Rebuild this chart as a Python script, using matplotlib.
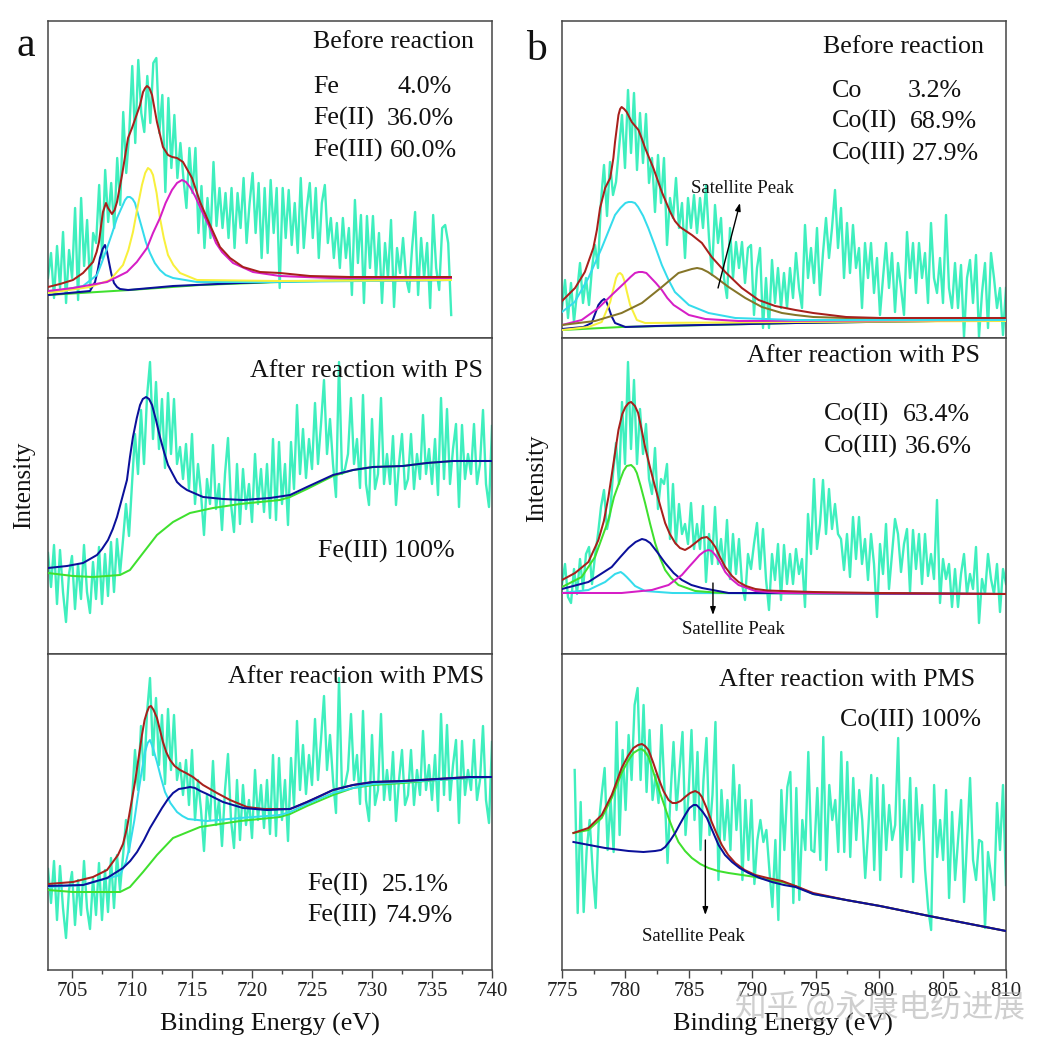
import numpy as np
import matplotlib
matplotlib.use("Agg")
import matplotlib.pyplot as plt
from matplotlib.ticker import MultipleLocator

plt.rcParams['font.family'] = ['Liberation Serif', 'DejaVu Serif']

W, H = 1050, 1049

# ---------- raw spectra (arbitrary intensity units) ----------
fe_before_range = [703.0, 736.6]
fe_before = [60,85,40,92,50,106,35,88,60,130,38,140,
 72,118,50,105,95,153,80,168,116,155,110,180,
 133,226,165,205,272,195,278,225,206,262,215,275,
 280,205,243,146,240,170,223,160,195,160,130,190,
 145,190,105,152,90,140,100,176,112,150,110,145,
 100,150,90,145,110,160,95,135,165,105,155,80,
 150,85,158,105,150,50,150,100,148,93,135,85,
 160,90,130,155,100,150,80,135,153,95,120,80,
 115,70,120,80,110,43,138,75,123,35,122,70,
 122,60,105,35,95,60,118,31,90,65,100,60,
 46,90,126,43,100,60,95,30,123,70,48,110,
 113,95,23]

fe_after_range = [703.0, 740.0]
fe_after = [101,67,109,50,104,62,32,80,98,45,90,55,
 109,62,41,92,55,107,50,100,58,112,62,115,
 80,114,150,118,170,220,180,244,190,257,292,215,
 272,205,255,186,261,200,255,190,207,175,210,165,
 220,150,190,160,119,175,150,209,145,170,124,180,
 216,150,122,190,130,185,145,170,132,200,150,185,
 142,190,136,215,134,212,150,190,129,212,165,249,
 180,225,176,215,185,251,190,230,274,200,235,190,
 157,292,180,185,200,256,190,215,166,259,170,149,
 235,165,180,256,170,200,170,218,149,190,220,165,
 175,220,165,200,175,239,180,205,170,215,159,256,
 175,245,170,205,230,147,229,175,200,180,230,170,
 190,244,170,147,228]

co_before_range = [775.0, 810.0]
co_before = [30,58,20,55,16,45,75,35,60,33,70,93,
 70,137,173,122,176,143,156,190,223,170,248,185,
 245,168,225,175,224,155,180,126,183,135,180,93,
 140,120,160,110,135,80,140,110,143,105,140,110,
 153,100,63,133,95,120,60,40,110,60,96,70,
 96,55,90,93,23,70,90,10,60,10,78,35,
 70,30,65,30,70,40,85,50,30,113,60,90,
 55,110,43,85,120,80,110,148,90,130,60,115,
 65,113,70,90,30,95,60,95,45,80,23,60,
 95,50,85,26,75,50,23,106,60,95,45,95,
 60,85,35,115,60,45,80,35,123,50,30,75,
 30,73,1,60,78,35,83,1,45,75,10,85,
 60,30,50,3,50]

co_ps_range = [775.0, 810.0]
co_ps = [70,90,57,51,85,60,95,65,100,107,70,98,
 120,147,164,125,140,180,211,170,252,190,292,205,
 274,190,245,200,230,175,160,206,145,175,170,190,
 115,170,110,150,120,130,110,151,105,130,105,148,
 72,120,90,147,90,115,85,134,75,120,80,115,
 70,54,100,85,110,131,85,125,75,44,100,74,
 110,54,109,70,100,70,105,80,95,47,140,100,
 175,105,130,174,120,165,125,150,120,115,84,120,
 77,137,95,137,90,115,74,120,90,37,110,80,
 130,65,100,135,120,82,110,125,62,124,85,120,
 70,120,78,100,75,154,51,95,75,90,47,85,
 47,80,100,60,80,65,107,31,75,60,100,75,
 60,90,42,85,70]

co_pms_range = [776.0, 810.0]
co_pms = [200,57,168,58,120,150,100,62,145,175,202,120,
 170,118,248,135,220,160,235,190,265,282,190,265,
 178,240,170,195,167,245,180,107,175,228,160,200,
 238,135,175,240,150,218,120,190,232,135,175,248,
 90,180,130,170,120,205,140,185,90,170,110,170,
 86,130,150,128,140,100,63,130,50,180,120,183,
 198,67,182,70,150,120,218,120,118,182,110,233,
 100,185,150,170,118,218,118,208,113,192,130,180,
 150,92,140,195,100,192,90,185,120,165,130,145,
 232,93,170,120,192,88,182,130,165,100,62,40,
 185,113,150,110,180,72,158,90,130,170,68,130,
 192,110,90,130,128,42,118,95,70,167,120,185,85]

# ---------- fitted curves: panel a, before ----------
a1_red_x = [703,704,705.08,705.92,706.75,707.05,707.25,707.42,707.58,707.83,708,708.33,708.55,708.75,709.17,709.67,710,710.67,710.92,711.1,711.25,711.45,711.67,712.08,712.58,713,713.35,713.75,714.25,715,715.67,716.5,717.33,718.17,719.25,720.67,722.33,724.83,728.17,736.58]
a1_red_y = [51,54,58,65,76,86,96,112,126,135,130,124,128,136,163,200,210,233,246,250,252,250,243,216,191,183,181,180,176,160,136,113,91,80,71,66,65,62,61,61]
a1_mag_x = [703,705.08,707.92,709.58,710.4,711.25,711.75,712.33,712.8,713.33,713.75,714.17,714.5,714.83,715.25,715.67,716.1,716.5,717,717.5,718.42,720.08,722.33,726.5,736.58]
a1_mag_y = [47,50,56,66,76,90,105,120,135,148,155,158,156,151,142,131,120,110,95,86,75,66,62,60,60]
a1_yel_x = [703,706.5,708.17,709.25,709.7,710.08,710.45,710.83,711.1,711.33,711.55,711.75,712.05,712.33,712.65,713,713.45,714,715.42,722.33,736.58]
a1_yel_y = [45,51,58,73,88,106,130,153,165,170,168,163,145,120,100,83,73,65,58,57,58]
a1_cya_x = [703,705.92,707.08,707.5,707.92,708.35,708.75,709.42,709.62,709.83,710.05,710.25,710.5,710.83,711.15,711.5,711.9,712.33,712.8,713.42,715.42,721.75,736.58]
a1_cya_y = [45,52,63,76,90,105,120,138,141,141,139,135,124,110,96,85,75,68,63,60,56,56,58]
a1_blu_x = [703,706.5,706.92,707.15,707.33,707.55,707.75,707.92,708.08,708.28,708.5,708.75,709,709.67,713.42,719,724,736.58]
a1_blu_y = [43,47,56,68,80,89,93,86,76,64,55,51,49,48,52,55,57,58]
a1_gre_x = [703,709.83,715.67,722.33,729,736.58]
a1_gre_y = [43,48,53,56,58,58]

# ---------- panel a, PS ----------
a2_blu_x = [703,704.58,705.92,707.08,707.5,708,708.4,708.75,709.2,709.58,709.83,710.08,710.4,710.67,710.9,711.17,711.42,711.67,712,712.33,712.67,713,713.35,713.75,714.1,714.58,715.92,717.58,719.25,721.5,723.17,724.58,726.75,728.42,730.08,732.58,734.58,736.75,740]
a2_blu_y = [86,88,91,99,105,114,125,137,157,174,197,217,236,249,255,257,255,249,234,217,202,189,181,172,168,164,157,155,154,156,159,167,179,184,187,188,191,193,193]
a2_gre_x = [703,705.08,706.75,709,709.83,710.92,712.08,713.42,714.83,716.75,719,722.33,723.17,724.58,726.75,728.42,730.08,732.58,734.58,736.75,740]
a2_gre_y = [81,78,77,79,84,101,119,132,141,146,150,154,157,165,178,184,187,188,191,193,193]

# ---------- panel a, PMS ----------
a3_red_x = [703,705.08,706.75,707.92,708.83,709.25,709.58,709.9,710.25,710.55,710.83,711.05,711.25,711.42,711.58,711.8,712.08,712.33,712.58,712.85,713.17,713.55,714,714.5,715.08,715.5,715.92,716.5,717.08,718.17,719.58,721,722.33,723.17,723.8,724.58,725.7,726.75,728.42,730.08,732.58,735.42,738.17,740]
a3_red_y = [86,88,93,100,115,126,142,164,188,212,235,250,258,263,264,260,252,240,228,218,210,204,200,197,193,189,185,181,177,170,163,161,161,161,164,168,174,180,185,188,189,191,193,193]
a3_cya_x = [703,705.92,709,709.5,709.83,710.2,710.5,710.8,711.08,711.3,711.5,711.75,712.08,712.4,712.75,713.2,713.75,714.2,714.67,716.25,719,722.33,723.17,724.58,726.75,728.42,730.08,732.58,735.42,738.17,740]
a3_cya_y = [83,85,95,108,125,150,175,198,218,227,230,222,208,193,178,167,158,154,151,149,152,155,158,166,177,182,186,188,190,192,193]
a3_gre_x = [703,705.08,709,709.83,710.92,712.08,713.42,715.67,719,722.33,723.17,724.58,726.75,728.42,730.08,732.58,735.42,738.17,740]
a3_gre_y = [80,78,78,83,98,115,132,143,149,153,156,164,175,182,185,187,190,192,193]
a3_blu_x = [703,705.92,707.92,709.25,709.85,710.42,711,711.5,712,712.5,713,713.42,713.9,714.42,714.85,715.25,715.7,716.25,717.58,719.25,721.25,723.17,724.58,726.75,728.42,730.08,732.58,735.42,738.17,740]
a3_blu_y = [84,85,92,102,109,118,130,142,152,162,171,177,181,182,183,182,179,176,168,162,160,161,168,180,185,188,189,191,193,193]

# ---------- panel b, before ----------
b1_red_x = [775,776.03,776.8,777.47,777.75,778,778.4,778.8,779.05,779.18,779.45,779.58,779.7,779.9,780.1,780.5,781.03,781.3,781.55,782.2,782.87,783.53,783.9,784.3,785.24,786.03,786.8,787.87,789.18,790.5,791.8,793.4,794.8,797.4,800.07,810]
b1_red_y = [37,50,66,90,108,130,150,160,180,196,223,229,231,229,226,216,208,199,190,170,146,126,117,111,103,95,81,66,50,38,32,28,25,21,20,20]
b1_cya_x = [775,776,777.08,778.13,779.18,779.6,780,780.25,780.5,780.75,781,781.4,781.8,782.3,782.87,783.4,783.9,785,786.55,788.66,793.4,810]
b1_cya_y = [26,36,60,90,123,130,135,136,136,135,131,122,110,93,73,58,46,33,25,20,18,18]
b1_yel_x = [775,777.08,778.13,778.8,779.26,779.42,779.58,779.75,779.9,780.1,780.37,780.9,781.55,793.4,810]
b1_yel_y = [8,11,16,36,60,64,65,63,58,47,33,18,15,16,17]
b1_mag_x = [775,776.55,777.87,778.92,780,780.4,780.76,781.05,781.34,781.65,781.95,782.4,782.87,783.3,783.8,785,786.3,788.92,810]
b1_mag_y = [13,18,30,43,56,61,65,66,66,65,61,55,48,40,33,23,19,17,18]
b1_oli_x = [775,777.6,779.7,781.3,782.87,784.18,785.24,785.65,786.03,786.5,787.08,788.13,789.45,790.76,792.34,793.4,794.8,797.4,810]
b1_oli_y = [13,17,25,35,51,65,69,70,69,66,61,51,40,31,25,23,21,20,20]
b1_blu_x = [775,776.68,777.34,777.87,778.12,778.32,778.48,778.66,778.9,779.18,780,782.34,793.4,810]
b1_blu_y = [9,11,15,33,37,39,37,31,22,15,11,12,15,18]
b1_gre_x = [775,779.7,793.4,810]
b1_gre_y = [8,11,15,18]

# ---------- panel b, PS ----------
b2_red_x = [775,776.03,777.08,777.87,778.3,778.66,779.05,779.45,779.75,780,780.25,780.45,780.75,781,781.25,781.55,781.95,782.34,782.75,783.13,783.5,783.92,784.3,784.7,785.1,785.5,786,786.42,786.75,787.08,787.45,787.87,788.4,788.92,789.5,790.24,791.2,792.34,794.8,800.07,810]
b2_red_y = [74,81,92,114,133,157,190,224,240,247,251,252,248,241,226,207,186,167,148,131,120,111,106,104,107,111,116,117,113,107,97,87,78,72,68,65,63.5,63,62,61,60]
b2_gre_x = [775,776.55,777.6,778.66,779.1,779.58,779.85,780.1,780.45,780.7,780.9,781.2,781.55,781.95,782.34,782.7,783.13,783.6,784.18,785.5,787.6,810]
b2_gre_y = [67,77,97,134,157,174,183,188,189,186,181,168,151,130,111,97,84,76,69,63,61,60]
b2_blu_x = [775,777.08,778.92,779.6,780.24,780.8,781.3,781.6,781.95,782.5,783.13,783.8,784.45,785.2,786.03,788.13,790.24,810]
b2_blu_y = [65,72,87,97,106,112,115,114,111,102,91,81,74,69,66,61,61,60]
b2_cya_x = [775,777.08,778.4,779.18,779.4,779.63,779.85,780.1,780.4,780.76,781.55,783.7,810]
b2_cya_y = [61,64,72,80,81,82,80,77,73,68,63,61,60]
b2_mag_x = [775,779.7,782.08,783.4,784.45,785,785.5,785.85,786.16,786.3,786.55,786.8,787.08,787.45,787.87,788.35,788.92,790.24,792.34,810]
b2_mag_y = [61,61,64,69,79,87,94,99,102,103,104,103,99,92,82,75,69,63,61,60]

# ---------- panel b, PMS ----------
b3_red_x = [775.9,777.08,778.13,778.92,779.3,779.7,780.2,780.63,781,781.3,781.55,781.82,782.2,782.6,783,783.4,783.7,784,784.35,784.7,785.1,785.5,785.8,786.03,786.4,786.8,787.2,787.6,788.1,788.66,789.4,790.24,791.2,792.34,793.4,794.8,797.4,800.07,803.94,810]
b3_red_y = [137,142,155,175,188,202,214,222,225,226,224,220,207,192,179,170,167,167,169,173,177,179,177,173,162,148,136,125,115,107,100,95,92,89,84,77,70,64,54,39]
b3_gre_x = [775.9,777.08,778.13,778.92,779.3,779.7,780.2,780.63,781,781.24,781.5,781.82,782.2,782.6,783,783.4,783.8,784.18,784.7,785.24,785.9,786.55,787.3,788.13,789.2,790.24,791.3,792.34,793.4,794.8,797.4,800.07,803.94,810]
b3_gre_y = [137,140,152,172,184,197,209,217,220,221,219,213,198,182,167,152,139,128,119,112,106,102,99,97,95,93,90,88,84,76,70,64,54,39]
b3_blu_x = [775.9,778.4,780.24,781.42,782.34,782.8,783.13,783.5,783.92,784.3,784.7,785.05,785.37,785.6,785.76,786.1,786.42,786.9,787.34,787.85,788.4,789,789.7,790.6,791.55,792.5,793.4,794.8,797.4,800.07,803.94,810]
b3_blu_y = [128,122,119,118,119,120,123,129,137,146,155,162,165,165,163,158,152,138,125,115,108,102,97,92,88,85,83,76,70,64,54,39]

# ---------- labels ----------
a_ticks = [705,710,715,720,725,730,735,740]
b_ticks = [775,780,785,790,795,800,805,810]
xlabel = "Binding Energy (eV)"
ylabel = "Intensity"
satellite = "Satellite Peak"

# ---------- styles ----------
NOISE = '#3FEFBE'
RED = '#A8201C'; BLUE = '#0B109A'; CYAN = '#35DCEC'; YEL = '#F8F03C'
MAG = '#D61EC6'; GRE = '#3FE02E'; OLI = '#857528'
LW = 1.45
SPINE = '#454545'
TS = 18.7


def fx(p):
    return p / W


def fy(p):
    return 1 - p / H


def make_ax(x0, y0, x1, y1, xlim, ticks, bottom):
    ax = fig.add_axes([fx(x0), fy(y1), (x1 - x0) / W, (y1 - y0) / H])
    ax.set_xlim(*xlim)
    ax.set_ylim(0, y1 - y0)
    ax.set_yticks([])
    for s in ax.spines.values():
        s.set_color(SPINE)
        s.set_linewidth(1.1)
    if bottom:
        ax.set_xticks(ticks)
        ax.xaxis.set_minor_locator(MultipleLocator(2.5))
        ax.tick_params(axis='x', which='major', length=5.5, width=1, color=SPINE,
                       labelsize=15, pad=3, labelcolor='#222222')
        ax.tick_params(axis='x', which='minor', length=3, width=1, color=SPINE)
    else:
        ax.set_xticks([])
    return ax


def noise(ax, rng, vals):
    ax.plot(np.linspace(rng[0], rng[1], len(vals)), vals, color=NOISE, lw=1.7,
            solid_joinstyle='round', zorder=1)


def curve(ax, x, y, c):
    ax.plot(x, y, color=c, lw=LW, zorder=3, solid_joinstyle='round')


def txt(x, y, s, size=TS, **kw):
    fig.text(fx(x), fy(y), s, fontsize=size, color='#111111', va='baseline', ha=kw.pop('ha', 'left'), **kw)


def arrow(ax, tail, head):
    ax.annotate('', xy=head, xytext=tail,
                arrowprops=dict(arrowstyle='-|>,head_width=0.16,head_length=0.45', color='black', lw=1.0,
                                shrinkA=0, shrinkB=0), zorder=5)


fig = plt.figure(figsize=(W / 100, H / 100), dpi=100, facecolor='white')

axa1 = make_ax(48, 21, 492, 338, (703, 740), a_ticks, False)
axa2 = make_ax(48, 338, 492, 654, (703, 740), a_ticks, False)
axa3 = make_ax(48, 654, 492, 970, (703, 740), a_ticks, True)
axb1 = make_ax(562, 21, 1006, 338, (775, 810), b_ticks, False)
axb2 = make_ax(562, 338, 1006, 654, (775, 810), b_ticks, False)
axb3 = make_ax(562, 654, 1006, 970, (775, 810), b_ticks, True)

noise(axa1, fe_before_range, fe_before)
curve(axa1, a1_gre_x, a1_gre_y, GRE)
curve(axa1, a1_blu_x, a1_blu_y, BLUE)
curve(axa1, a1_cya_x, a1_cya_y, CYAN)
curve(axa1, a1_yel_x, a1_yel_y, YEL)
curve(axa1, a1_mag_x, a1_mag_y, MAG)
curve(axa1, a1_red_x, a1_red_y, RED)

noise(axa2, fe_after_range, fe_after)
curve(axa2, a2_gre_x, a2_gre_y, GRE)
curve(axa2, a2_blu_x, a2_blu_y, BLUE)

noise(axa3, fe_after_range, fe_after)
curve(axa3, a3_gre_x, a3_gre_y, GRE)
curve(axa3, a3_cya_x, a3_cya_y, CYAN)
curve(axa3, a3_red_x, a3_red_y, RED)
curve(axa3, a3_blu_x, a3_blu_y, BLUE)

noise(axb1, co_before_range, co_before)
curve(axb1, b1_gre_x, b1_gre_y, GRE)
curve(axb1, b1_blu_x, b1_blu_y, BLUE)
curve(axb1, b1_yel_x, b1_yel_y, YEL)
curve(axb1, b1_mag_x, b1_mag_y, MAG)
curve(axb1, b1_cya_x, b1_cya_y, CYAN)
curve(axb1, b1_oli_x, b1_oli_y, OLI)
curve(axb1, b1_red_x, b1_red_y, RED)
arrow(axb1, (787.3, 50), (789.03, 135))

noise(axb2, co_ps_range, co_ps)
curve(axb2, b2_cya_x, b2_cya_y, CYAN)
curve(axb2, b2_gre_x, b2_gre_y, GRE)
curve(axb2, b2_blu_x, b2_blu_y, BLUE)
curve(axb2, b2_mag_x, b2_mag_y, MAG)
curve(axb2, b2_red_x, b2_red_y, RED)
arrow(axb2, (786.9, 71), (786.9, 39))

noise(axb3, co_pms_range, co_pms)
curve(axb3, b3_gre_x, b3_gre_y, GRE)
curve(axb3, b3_red_x, b3_red_y, RED)
curve(axb3, b3_blu_x, b3_blu_y, BLUE)
arrow(axb3, (786.3, 130), (786.3, 55))

# panel letters
txt(17, 56, 'a', size=30)
txt(526, 60, 'b', size=30)

# panel a texts
txt(313, 48, 'Before reaction')
txt(313, 93, 'Fe');      txt(398, 93, '4.0%')
txt(313, 125, 'Fe(II)'); txt(387, 125, '36.0%')
txt(313, 157, 'Fe(III)'); txt(390, 157, '60.0%')
txt(250, 377, 'After reaction with PS')
txt(318, 558, 'Fe(III) 100%')
txt(228, 683, 'After reaction with PMS')
txt(307, 891, 'Fe(II)'); txt(382, 891, '25.1%')
txt(307, 922, 'Fe(III)'); txt(385, 922, '74.9%')

# panel b texts
txt(823, 53, 'Before reaction')
txt(832, 97, 'Co');      txt(908, 97, '3.2%')
txt(832, 128, 'Co(II)'); txt(910, 128, '68.9%')
txt(832, 160, 'Co(III)'); txt(912, 160, '27.9%')
txt(747, 362, 'After reaction with PS')
txt(824, 421, 'Co(II)'); txt(903, 421, '63.4%')
txt(824, 453, 'Co(III)'); txt(905, 453, '36.6%')
txt(719, 686, 'After reaction with PMS')
txt(840, 727, 'Co(III) 100%')

# satellite annotations
txt(691, 193, satellite, size=13.5)
txt(682, 634, satellite, size=13.5)
txt(642, 941, satellite, size=13.5)

# axis titles
txt(270, 1031, xlabel, size=18.8, ha='center')
txt(783, 1031, xlabel, size=18.8, ha='center')
fig.text(fx(24), fy(485), ylabel, fontsize=18, rotation=90, ha='center', va='center', color='#111111')
fig.text(fx(537), fy(478), ylabel, fontsize=18, rotation=90, ha='center', va='center', color='#111111')

# watermark
fig.text(fx(735), fy(1017), '知乎 @永康电纺进展', fontsize=22.8, color='#a8a8a8', alpha=0.55,
         family=['Noto Sans CJK SC', 'DejaVu Sans'], va='baseline', ha='left', zorder=10)

fig.savefig('out.png', dpi=100, facecolor='white')
